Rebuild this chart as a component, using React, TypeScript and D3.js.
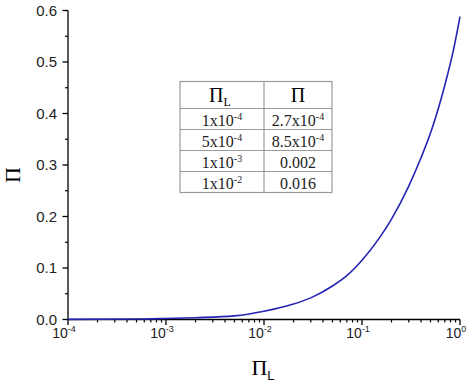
import React, { useEffect, useRef } from "react"
import * as d3 from "d3"

// curve (Pi vs Pi_L)
const piL = [1e-4, 5e-4, 1e-3, 2e-3, 5e-3, 0.01, 0.02, 0.03, 0.05, 0.07, 0.1, 0.15, 0.2, 0.3, 0.4, 0.5, 0.7, 0.85, 1]
const pi = [0.00027, 0.00085, 0.002, 0.0035, 0.007, 0.016, 0.03, 0.042, 0.065, 0.085, 0.115, 0.158, 0.195, 0.259, 0.314, 0.362, 0.455, 0.52, 0.588]

// table values
const tablePiL = [["1x10", "-4"], ["5x10", "-4"], ["1x10", "-3"], ["1x10", "-2"]]
const tablePi = [["2.7x10", "-4"], ["8.5x10", "-4"], ["0.002", ""], ["0.016", ""]]

const xExps = [-4, -3, -2, -1, 0]
const yTicks = [0, 0.1, 0.2, 0.3, 0.4, 0.5, 0.6]

const W = 474, H = 386

export default function App() {
  const ref = useRef<SVGSVGElement>(null)

  useEffect(() => {
    const svg = d3.select(ref.current)
    svg.selectAll("*").remove()

    const left = 68, right = 460, top = 10.5, bottom = 319.5
    const x = d3.scaleLog().domain([1e-4, 1]).range([left, right])
    const y = d3.scaleLinear().domain([0, 0.6]).range([bottom, top])
    const tickFont = "'Liberation Sans', Arial, sans-serif"
    const serif = "'Liberation Serif', 'Times New Roman', serif"

    // axes lines
    svg.append("line").attr("x1", left).attr("x2", left).attr("y1", top).attr("y2", bottom)
      .attr("stroke", "#000").attr("stroke-width", 1.3)
    svg.append("line").attr("x1", left).attr("x2", right).attr("y1", bottom).attr("y2", bottom)
      .attr("stroke", "#000").attr("stroke-width", 1.3)

    // x ticks
    const minorX: number[] = []
    xExps.slice(0, -1).forEach(e => { for (let k = 2; k <= 9; k++) minorX.push(k * Math.pow(10, e)) })
    svg.append("g").selectAll("line").data(minorX).enter().append("line")
      .attr("x1", d => x(d)).attr("x2", d => x(d)).attr("y1", bottom).attr("y2", bottom + 3)
      .attr("stroke", "#000").attr("stroke-width", 1.2)
    svg.append("g").selectAll("line").data(xExps).enter().append("line")
      .attr("x1", d => x(Math.pow(10, d))).attr("x2", d => x(Math.pow(10, d)))
      .attr("y1", bottom).attr("y2", bottom + 5.5)
      .attr("stroke", "#000").attr("stroke-width", 1.3)
    const xl = svg.append("g").selectAll("text").data(xExps).enter().append("text")
      .attr("x", d => x(Math.pow(10, d)) - 4).attr("y", 338)
      .attr("text-anchor", "middle").attr("font-family", tickFont).attr("font-size", 14).attr("fill", "#222")
    xl.append("tspan").text("10")
    xl.append("tspan").attr("dy", -6).attr("font-size", 9).text(d => String(d))

    // y ticks
    const minorY = yTicks.slice(0, -1).map(d => d + 0.05)
    svg.append("g").selectAll("line").data(minorY).enter().append("line")
      .attr("x1", left - 3).attr("x2", left).attr("y1", d => y(d)).attr("y2", d => y(d))
      .attr("stroke", "#000").attr("stroke-width", 1.2)
    svg.append("g").selectAll("line").data(yTicks).enter().append("line")
      .attr("x1", left - 5.5).attr("x2", left).attr("y1", d => y(d)).attr("y2", d => y(d))
      .attr("stroke", "#000").attr("stroke-width", 1.3)
    svg.append("g").selectAll("text").data(yTicks).enter().append("text")
      .attr("x", 57).attr("y", d => y(d) + 5)
      .attr("text-anchor", "end").attr("font-family", tickFont).attr("font-size", 15).attr("fill", "#222")
      .text(d => d.toFixed(1))

    // axis titles
    svg.append("text").attr("transform", "translate(20,175) rotate(-90)")
      .attr("text-anchor", "middle").attr("font-family", serif)
      .attr("font-size", 22).text("Π")
    const xt = svg.append("text").attr("x", 263).attr("y", 375)
      .attr("text-anchor", "middle").attr("font-family", serif)
      .attr("font-size", 22)
    xt.append("tspan").text("Π")
    xt.append("tspan").attr("dy", 5).attr("font-family", tickFont).attr("font-size", 13).text("L")

    // curve
    const pts = piL.map((d, i) => [d, pi[i]] as [number, number])
    const line = d3.line<[number, number]>().x(d => x(d[0])).y(d => y(d[1])).curve(d3.curveMonotoneX)
    svg.append("path").datum(pts).attr("d", line)
      .attr("fill", "none").attr("stroke", "#2424b4").attr("stroke-width", 1.6)

    // table
    const tx0 = 180, tx1 = 264, tx2 = 332
    const rowY = [81.5, 108.5, 129.5, 150.5, 171.5, 192.5]
    const tb = svg.append("g")
    tb.append("rect").attr("x", tx0).attr("y", rowY[0]).attr("width", tx2 - tx0).attr("height", rowY[5] - rowY[0])
      .attr("fill", "#fff").attr("stroke", "#9a9a9a").attr("stroke-width", 1.2)
    tb.append("line").attr("x1", tx1).attr("x2", tx1).attr("y1", rowY[0]).attr("y2", rowY[5])
      .attr("stroke", "#9a9a9a").attr("stroke-width", 1.2)
    tb.selectAll("line.r").data(rowY.slice(1, 5)).enter().append("line").attr("class", "r")
      .attr("x1", tx0).attr("x2", tx2).attr("y1", d => d).attr("y2", d => d)
      .attr("stroke", "#9a9a9a").attr("stroke-width", 1.2)
    const h1 = tb.append("text").attr("x", (tx0 + tx1) / 2 - 2).attr("y", 102).attr("text-anchor", "middle")
      .attr("font-family", serif).attr("font-size", 20)
    h1.append("tspan").text("Π")
    h1.append("tspan").attr("dy", 4).attr("font-size", 12).text("L")
    tb.append("text").attr("x", (tx1 + tx2) / 2).attr("y", 102).attr("text-anchor", "middle")
      .attr("font-family", serif).attr("font-size", 20).text("Π")
    const cols: [string[][], number][] = [[tablePiL, (tx0 + tx1) / 2], [tablePi, (tx1 + tx2) / 2]]
    cols.forEach(([vals, cx]) => {
      const t = tb.selectAll(null).data(vals).enter().append("text")
        .attr("x", cx).attr("y", (d, i) => rowY[i + 2] - 4).attr("text-anchor", "middle")
        .attr("font-family", serif).attr("font-size", 16).attr("fill", "#222")
      t.append("tspan").text(d => d[0])
      t.append("tspan").attr("dy", -6).attr("font-size", 10).text(d => d[1])
    })
  }, [])

  return (
    <div style={{ position: "absolute", left: 0, top: 0 }}>
      <svg ref={ref} width={W} height={H} style={{ display: "block", background: "#fff" }} />
    </div>
  )
}
